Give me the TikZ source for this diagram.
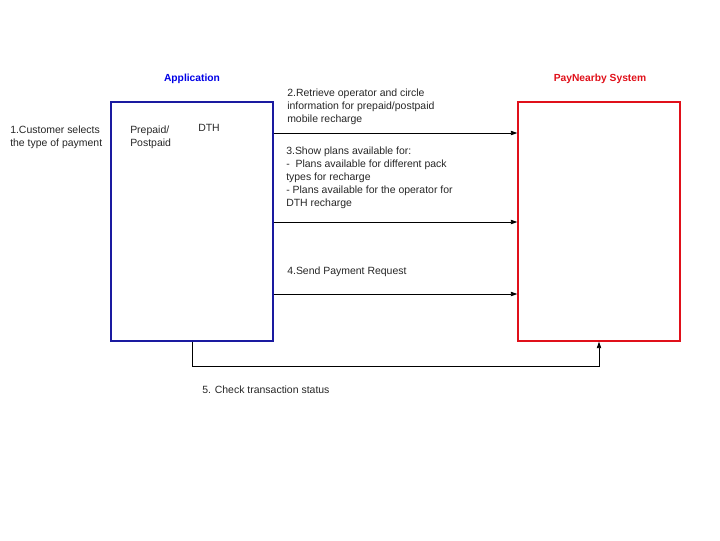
\documentclass[tikz,border=0pt]{standalone}
\usepackage{fontspec}
\setmainfont{Liberation Sans}
\usetikzlibrary{arrows.meta}
\definecolor{appblue}{HTML}{1A1AA0}
\definecolor{titleblue}{HTML}{0000E6}
\definecolor{sysred}{HTML}{E0101A}
\begin{document}
\begin{tikzpicture}[x=0.75pt,y=-0.75pt,
  lbl/.style={font=\fontsize{7.85pt}{9.75pt}\selectfont, align=left, inner sep=0pt, anchor=north west, text=black!85},
  ttl/.style={font=\fontsize{7.7pt}{9.75pt}\selectfont\bfseries, inner sep=0pt},
  sysbox/.style={draw, line width=0.8pt, inner sep=0pt},
  conn/.style={line width=0.7pt, -{Triangle[length=5pt,width=3.2pt]}}]
\useasboundingbox (0,0) rectangle (720,540);
\node[sysbox, draw=appblue, minimum width=162*0.75pt, minimum height=239*0.75pt] (app) at (192,221.5) {};
\node[sysbox, draw=sysred, minimum width=162*0.75pt, minimum height=239*0.75pt] (sys) at (599,221.5) {};
\node[ttl, text=titleblue] (appt) at (192,78.5) {Application};
\node[ttl, text=sysred] (syst) at (600,78.5) {PayNearby System};
\node[lbl] (l1) at (10,126) {1.Customer selects\\the type of payment};
\node[lbl] (pp) at (130,126) {Prepaid/\\Postpaid};
\node[lbl] (dth) at (198,124) {DTH};
\node[lbl] (l2) at (287,89) {2.Retrieve operator and circle\\information for prepaid/postpaid\\mobile recharge};
\node[lbl] (l3) at (286,147) {3.Show plans available for:\\-\ \ Plans available for different pack\\types for recharge\\- Plans available for the operator for\\DTH recharge};
\node[lbl] (l4) at (287,267) {4.Send Payment Request};
\node[lbl] (l5) at (202,386) {5. Check transaction status};
\draw[conn] (app.east |- 0,133) -- (sys.west |- 0,133);
\draw[conn] (app.east |- 0,222) -- (sys.west |- 0,222);
\draw[conn] (app.east |- 0,294) -- (sys.west |- 0,294);
\draw[conn] (app.south) -- (192,366) -- (599,366) -- (sys.south);
\end{tikzpicture}
\end{document}
